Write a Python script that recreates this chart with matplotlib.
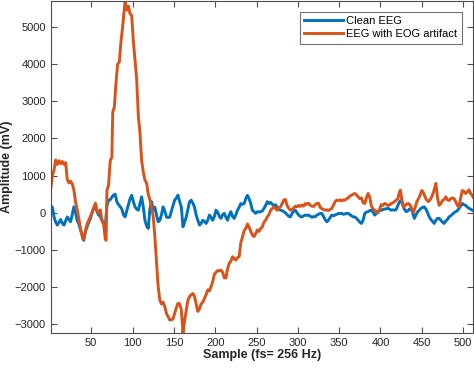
import matplotlib
matplotlib.use("Agg")
import matplotlib.pyplot as plt

# ---- data ----
artifact_samples = [1, 3, 5, 7, 9, 11, 13, 15, 17, 19, 21, 23, 25, 27, 29, 31, 34, 37, 40, 42, 44, 46, 48, 50,
                    52, 54, 55, 57, 59, 61, 63, 65, 67, 68, 69, 71, 73, 75, 76, 78, 80, 82, 84, 86, 88, 90, 91,
                    93, 95, 97, 99, 101, 103, 105, 107, 109, 111, 113, 115, 117, 119, 121, 123, 125, 127, 129,
                    131, 133, 135, 137, 139, 141, 143, 145, 147, 149, 151, 153, 155, 157, 159, 161, 163, 165,
                    167, 169, 171, 173, 175, 177, 179, 181, 183, 185, 187, 189, 191, 193, 195, 197, 199, 201,
                    203, 205, 207, 209, 211, 213, 215, 217, 219, 221, 223, 225, 227, 229, 231, 233, 235, 237,
                    239, 241, 243, 245, 247, 249, 251, 253, 255, 257, 259, 261, 263, 265, 267, 269, 271, 273,
                    275, 277, 279, 281, 283, 285, 287, 289, 291, 293, 295, 297, 299, 301, 303, 305, 307, 309,
                    311, 313, 315, 317, 319, 321, 323, 325, 327, 329, 331, 333, 335, 337, 339, 341, 343, 345,
                    347, 349, 351, 353, 355, 357, 359, 361, 363, 365, 367, 369, 371, 373, 375, 377, 379, 381,
                    383, 385, 387, 389, 391, 393, 395, 397, 399, 401, 403, 405, 407, 409, 411, 413, 415, 417,
                    419, 421, 423, 424, 426, 428, 430, 432, 434, 436, 438, 440, 442, 444, 446, 448, 450, 452,
                    454, 456, 458, 460, 462, 464, 466, 467, 469, 471, 473, 475, 477, 479, 481, 483, 485, 487,
                    489, 491, 493, 495, 497, 499, 501, 503, 505, 507, 509, 511, 512]
artifact_values = [650, 1000, 1150, 1420, 1300, 1400, 1320, 1380, 1300, 1350, 900, 800, 850, 780, 620, 300, -20,
                   -420, -720, -600, -380, -250, -150, -50, 80, 200, 260, 50, 0, 80, -200, -300, -700, -740, 600,
                   740, 1400, 1500, 2700, 2850, 3500, 4000, 4050, 4600, 5000, 5450, 5700, 5450, 5550, 5350, 5300,
                   4600, 4100, 3600, 2600, 2150, 1400, 1100, 880, 800, 500, 350, 150, -100, -640, -1300, -1980,
                   -2350, -2450, -2400, -2520, -2700, -2790, -2880, -2880, -2850, -2700, -2550, -2430, -2450,
                   -2600, -3230, -2900, -2620, -2350, -2250, -2200, -2170, -2250, -2450, -2650, -2580, -2450,
                   -2400, -2300, -2200, -2070, -2100, -1980, -1850, -1650, -1600, -1550, -1560, -1540, -1600,
                   -1750, -1750, -1500, -1360, -1300, -1180, -1230, -1270, -1200, -1180, -800, -650, -480, -420,
                   -300, -380, -500, -600, -640, -560, -460, -500, -420, -380, -250, -200, -110, -50, 70, 110,
                   160, 120, 70, 140, 160, 250, 340, 360, 200, 120, 70, 90, 130, 180, 160, 200, 170, 210, 180,
                   250, 230, 260, 200, 180, 170, 220, 250, 260, 150, 110, 90, 70, 80, 60, 90, 120, 200, 300, 340,
                   330, 350, 320, 350, 340, 380, 400, 450, 475, 500, 520, 480, 430, 380, 400, 270, 250, 400, 520,
                   420, 180, 100, 70, 40, 0, 100, 220, 200, 250, 230, 200, 210, 250, 270, 300, 340, 380, 560, 610,
                   350, 160, 200, 240, 250, 200, 100, 20, 150, 300, 380, 480, 600, 540, 420, 340, 300, 350, 430,
                   550, 700, 790, 400, 200, 250, 330, 360, 430, 350, 330, 380, 400, 380, 300, 200, 160, 400, 600,
                   580, 520, 560, 620, 520, 470, 420]

clean_samples = [1, 3, 5, 7, 9, 11, 13, 15, 17, 19, 21, 23, 25, 27, 29, 31, 33, 35, 37, 39, 41, 43, 45, 47, 49,
                 51, 53, 55, 57, 59, 61, 63, 65, 67, 69, 71, 73, 75, 77, 79, 81, 83, 85, 87, 89, 91, 93, 95, 97,
                 99, 101, 103, 105, 107, 109, 111, 113, 115, 117, 119, 121, 123, 125, 127, 129, 131, 133, 135,
                 137, 139, 141, 143, 145, 147, 149, 151, 153, 155, 157, 159, 161, 163, 165, 167, 169, 171, 173,
                 175, 177, 179, 181, 183, 185, 187, 189, 191, 193, 195, 197, 199, 201, 203, 205, 207, 209, 211,
                 213, 215, 217, 219, 221, 223, 225, 227, 229, 231, 233, 235, 237, 239, 241, 243, 245, 247, 249,
                 251, 253, 255, 257, 259, 261, 263, 265, 267, 269, 271, 273, 275, 277, 279, 281, 283, 285, 287,
                 289, 291, 293, 295, 297, 299, 301, 303, 305, 307, 309, 311, 313, 315, 317, 319, 321, 323, 325,
                 327, 329, 331, 333, 335, 337, 339, 341, 343, 345, 347, 349, 351, 353, 355, 357, 359, 361, 363,
                 365, 367, 369, 371, 373, 375, 377, 379, 381, 383, 385, 387, 389, 391, 393, 395, 397, 399, 401,
                 403, 405, 407, 409, 411, 413, 415, 417, 419, 421, 423, 425, 427, 429, 431, 433, 435, 437, 439,
                 441, 443, 445, 447, 449, 451, 453, 455, 457, 459, 461, 463, 465, 467, 469, 471, 473, 475, 477,
                 479, 481, 483, 485, 487, 489, 491, 493, 495, 497, 499, 501, 503, 505, 507, 509, 511, 512]
clean_values = [200, 150, -110, -250, -330, -250, -180, -280, -330, -220, -110, -180, -240, -50, 160, 0, -200,
                -300, -460, -600, -740, -500, -380, -250, -150, 0, 120, 200, 30, -60, -100, -200, -300, -380,
                200, 340, 350, 420, 480, 500, 300, 220, 170, 100, -50, -110, 50, 200, 380, 470, 300, 160, 100,
                70, 250, 430, 150, -200, -350, -420, 100, 300, 70, 150, -60, -240, -200, -50, 160, 50, -110,
                -130, -110, 50, 200, 340, 400, 475, 300, 160, -375, -250, -110, 100, 300, 340, 260, 150, -60,
                -200, -330, -280, -200, -230, -285, -200, -60, -120, -200, -100, 70, 20, -100, -150, -50, -15,
                -120, -200, -50, 30, -100, -150, -50, 70, 150, 250, 230, 250, 380, 470, 380, 250, 70, 30, -15,
                30, 20, 30, 50, 120, 200, 300, 250, 280, 230, 200, 220, 150, 100, 70, 60, 30, 0, -50, -90,
                -110, -20, 50, 70, 0, -60, -100, -110, -80, -60, -70, -60, -90, -120, -100, -110, -60, -40,
                -15, -15, -100, -180, -240, -200, -130, -60, -80, -60, -40, -20, -15, -15, -40, -30, -15, -15,
                -50, -80, -110, -110, -150, -200, -250, -285, -200, -15, 20, 30, 60, 70, 20, -60, -20, 30, 60,
                70, 90, 100, 110, 120, 100, 70, 80, 70, 90, 200, 300, 340, 200, 100, 30, 50, 100, 120, 0,
                -150, -50, 30, 70, 120, 150, 160, 100, 0, -110, -180, -230, -285, -200, -150, -150, -200,
                -250, -285, -220, -180, -110, -80, -40, 0, 30, 60, 120, 180, 250, 220, 200, 160, 120, 100, 70,
                60]

series_labels = ["Clean EEG", "EEG with EOG artifact"]
x_ticks = [50, 100, 150, 200, 250, 300, 350, 400, 450, 500]
y_ticks = [-3000, -2000, -1000, 0, 1000, 2000, 3000, 4000, 5000]

plt.rcParams['font.family'] = ['Liberation Sans', 'DejaVu Sans']

fig = plt.figure(figsize=(4.74, 3.70), dpi=100)
ax = fig.add_axes([0.107, 0.1, 0.891, 0.898])

ax.plot(clean_samples, clean_values, color='#0072BD', lw=2.1, label=series_labels[0])
ax.plot(artifact_samples, artifact_values, color='#D95319', lw=2.1, label=series_labels[1])

ax.set_xlim(1, 512)
ax.set_ylim(min(artifact_values), max(artifact_values))
ax.set_xticks(x_ticks)
ax.set_yticks(y_ticks)

axis_color = '#4d4d4d'
for sp in ax.spines.values():
    sp.set_color(axis_color)
    sp.set_linewidth(0.8)
ax.tick_params(direction='in', top=True, right=True, length=4, width=0.8,
               colors=axis_color, labelcolor='#262626', labelsize=8)

ax.set_xlabel('Sample (fs= 256 Hz)', fontsize=9, fontweight='bold', color='#262626', labelpad=1)
ax.set_ylabel('Amplitude (mV)', fontsize=9, fontweight='bold', color='#262626', labelpad=1)

leg = ax.legend(loc='upper right', fontsize=8, frameon=True, fancybox=False,
                handlelength=3.5, borderpad=0.4, labelspacing=0.25, handletextpad=0.3,
                borderaxespad=1.0)
leg.get_frame().set_edgecolor(axis_color)
leg.get_frame().set_linewidth(0.8)

fig.savefig('out.png', dpi=100)
